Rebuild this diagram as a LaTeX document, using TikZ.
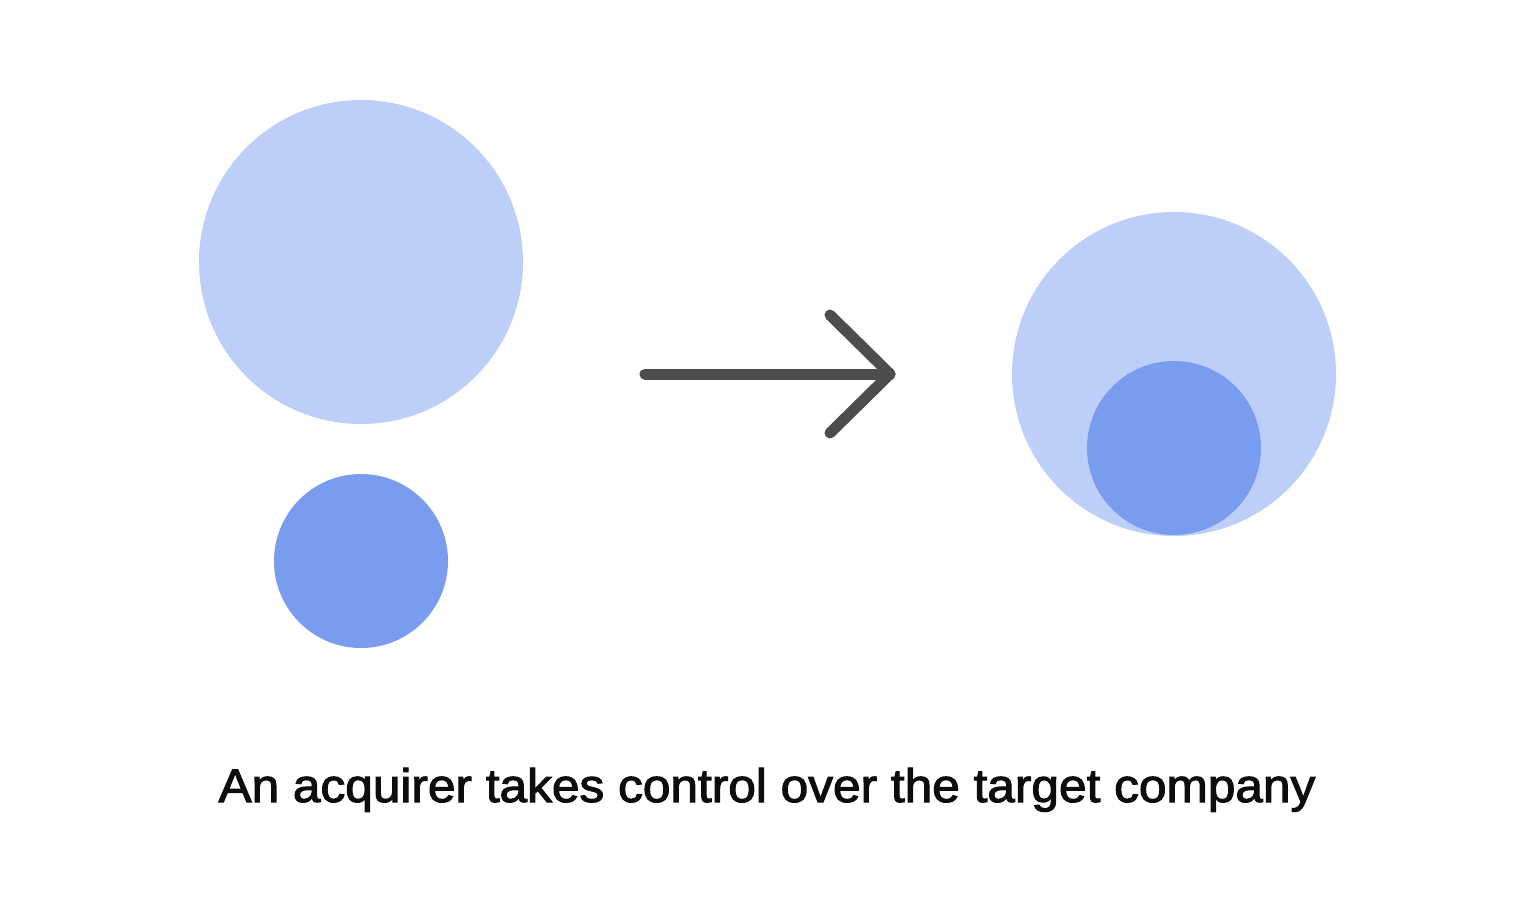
\documentclass[tikz,border=0pt]{standalone}
\usepackage{fontspec}
\setmainfont{Liberation Sans}
\newfontfamily\capfont{Liberation Sans}[FakeBold=2.2]
\definecolor{lightblue}{HTML}{BDCEF8}
\definecolor{midblue}{HTML}{7A9CEE}
\definecolor{arrowgray}{HTML}{4D4D4D}
\begin{document}
\begin{tikzpicture}[x=1pt,y=-1pt,
  bigcirc/.style={circle,fill=lightblue,minimum size=324pt,inner sep=0pt},
  smallcirc/.style={circle,fill=midblue,minimum size=174pt,inner sep=0pt},
  arrowline/.style={draw=arrowgray,line width=11pt,line cap=round,line join=round},
  caption/.style={font=\capfont\fontsize{47}{56}\selectfont,text=black!95,inner sep=0pt,anchor=base}]
\useasboundingbox (0,0) rectangle (1536,901);
\node[bigcirc] (acq) at (361,262) {};
\node[smallcirc] (tgt) at (361,561) {};
\node[bigcirc] (merged) at (1174,374) {};
\node[smallcirc] (inner) at (1174,448) {};
\coordinate (astart) at (645,374);
\coordinate (atip) at (890,374);
\coordinate (aup) at (830,315);
\coordinate (adown) at (830,433);
\draw[arrowline] (astart) -- (atip);
\draw[arrowline] (aup) -- (atip) -- (adown);
\node[caption] (cap) at (767,802) {\scalebox{1.055}[1]{An acquirer takes control over the target company}};
\end{tikzpicture}
\end{document}
